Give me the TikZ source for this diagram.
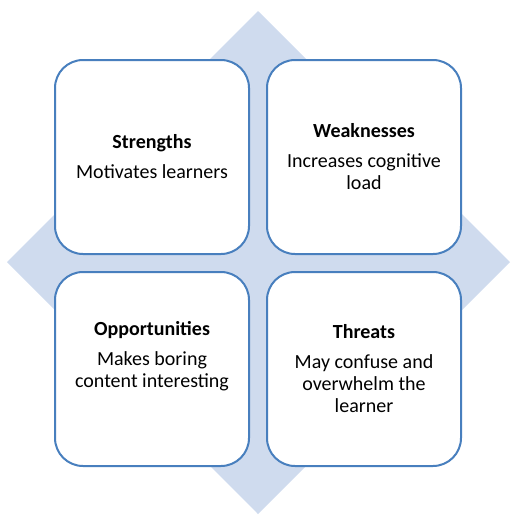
\documentclass[tikz,border=0pt]{standalone}
\usepackage{fontspec}
\setmainfont{Carlito}
\definecolor{swot borde}{RGB}{72,127,190}
\definecolor{swot fondo}{RGB}{207,219,238}

\begin{document}
\begin{tikzpicture}[x=0.75pt, y=-0.75pt, font=\fontsize{15}{16.5}\selectfont,
    caja/.style={draw=swot borde, line width=1.5pt, fill=white, rounded corners=21pt,
      minimum width=145.5pt, minimum height=145.5pt, align=center, inner sep=0pt}]
        \useasboundingbox (0,0) rectangle (521,522);
        \fill[swot fondo] (258,11) -- (510,262) -- (258,514) -- (7,262) -- cycle;
        \node[caja] (fortalezas) at (152,157) {\textbf{Strengths}\\[6pt]Motivates learners};
        \node[caja] (debilidades) at (364,157) {\textbf{Weaknesses}\\[6pt]Increases cognitive\\load};
        \node[caja] (oportunidades) at (152,369) {\textbf{Opportunities}\\[6pt]Makes boring\\content interesting\\\strut};
        \node[caja] (amenazas) at (364,369) {\textbf{Threats}\\[6pt]May confuse and\\overwhelm the\\learner};
      \end{tikzpicture}
\end{document}
